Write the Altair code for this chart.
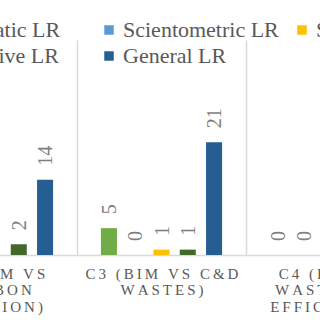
import altair as alt
import pandas as pd

# ---- data read from the (cropped) reference ----
categories = ["C2", "C3", "C4"]
category_lines = {
    "C2": ["C2 (BIM VS", "CARBON", "EMISSION)"],
    "C3": ["C3 (BIM VS C&D", "WASTES)"],
    "C4": ["C4 (BIM VS", "WASTE AND", "EFFICIENCY)"],
}
series = ["Systematic LR", "Scientometric LR", "Semi-systematic LR", "Integrative LR", "General LR"]
colors = ["#70AD47", "#5B9BD5", "#FFC000", "#43682B", "#255E91"]

# values per category in series order (None = outside the visible crop)
c2_values = [None, None, None, 2, 14]
c3_values = [5, 0, 1, 1, 21]
c4_values = [0, 0, None, None, None]

rows = []
for cat, vals in zip(categories, [c2_values, c3_values, c4_values]):
    for s, v in zip(series, vals):
        if v is not None:
            rows.append({"category": cat, "series": s, "value": v})
df = pd.DataFrame(rows)

SERIF = "'Times New Roman', 'Liberation Serif', 'DejaVu Serif', serif"

# letter-spaced, multi-line category labels
THIN = "\u2009"
def spaced(line):
    return THIN.join(list(line))

parts = []
for k in categories:
    arr = ", ".join("'" + spaced(l) + "'" for l in category_lines[k])
    parts.append(f"datum.value == '{k}' ? [{arr}]")
label_expr = " : ".join(parts) + " : datum.label"

x_enc = alt.X(
    "category:N",
    sort=categories,
    scale=alt.Scale(domain=categories, paddingInner=0, paddingOuter=0),
    axis=alt.Axis(
        title=None,
        labelAngle=0,
        labelExpr=label_expr,
        labelFont=SERIF,
        labelFontSize=15,
        labelColor="#595959",
        labelLineHeight=16.5,
        labelPadding=11,
        labelLimit=0,
        ticks=False,
        tickSize=0,
        grid=True,
        tickBand="extent",
        gridColor="#d9d9d9",
        gridWidth=1.5,
        domainColor="#d9d9d9",
        domainWidth=1.5,
    ),
)
xoff_enc = alt.XOffset(
    "series:N",
    sort=series,
    scale=alt.Scale(domain=series, paddingInner=0.39, paddingOuter=0.91),
)
y_enc = alt.Y("value:Q", scale=alt.Scale(domain=[0, 40]), axis=None)

base = alt.Chart(df).encode(x=x_enc, xOffset=xoff_enc, y=y_enc)

bars = base.mark_bar().encode(
    color=alt.Color(
        "series:N",
        sort=series,
        scale=alt.Scale(domain=series, range=colors),
        legend=alt.Legend(
            title=None,
            orient="none",
            legendX=-3,
            legendY=-21,
            direction="horizontal",
            columns=3,
            gridAlign="all",
            symbolType="square",
            symbolSize=90,
            symbolStrokeWidth=0,
            symbolOpacity=1,
            labelFont=SERIF,
            labelFontSize=22,
            labelColor="#595959",
            labelOffset=3,
            labelLimit=156,
            columnPadding=12,
            rowPadding=4,
            padding=0,
        ),
    )
)

labels = base.mark_text(
    angle=270,
    align="left",
    baseline="middle",
    dx=14,
    dy=1,
    font=SERIF,
    fontSize=20,
    color="#7f7f7f",
).encode(text="value:Q")

chart = (
    alt.layer(bars, labels)
    .properties(
        width=507,
        height=215,
        padding={"left": -92, "top": 40, "right": -95, "bottom": 65},
        autosize=alt.AutoSizeParams(type="none"),
        background="white",
    )
    .configure_view(stroke=None)
)

chart.save("out.html", embed_options={"renderer": "svg", "actions": False})
